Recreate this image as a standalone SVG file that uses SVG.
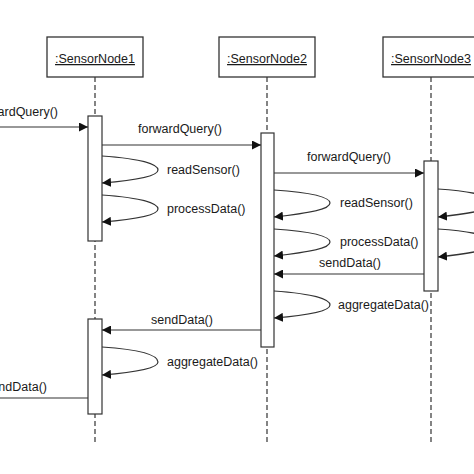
<svg xmlns="http://www.w3.org/2000/svg" width="474" height="474" viewBox="0 0 474 474">
<defs>
<style>
text{font-family:"Liberation Sans",Arial,sans-serif;font-size:12.5px;fill:#1a1a1a}
.u{text-decoration:underline}
.box{fill:#fff;stroke:#333;stroke-width:1.3}
.life{stroke:#333;stroke-width:1.2;stroke-dasharray:5,3;fill:none}
.msg{stroke:#333;stroke-width:1.2;fill:none}
.act{fill:#fff;stroke:#333;stroke-width:1.2}
</style>
<marker id="ah" viewBox="0 0 10 10" refX="10" refY="5" markerWidth="9" markerHeight="9" markerUnits="userSpaceOnUse" orient="auto">
<path d="M0,0 L10,5 L0,10 z" fill="#111"/>
</marker>
</defs>
<rect width="474" height="474" fill="#fff"/>
<g id="lifelines">
<line class="life" x1="95" y1="77" x2="95" y2="443"/>
<line class="life" x1="267" y1="77" x2="267" y2="443"/>
<line class="life" x1="431" y1="77" x2="431" y2="443"/>
</g>
<g id="SensorNode1">
<rect class="box" x="47" y="37" width="96" height="40"/>
<text class="u" x="95" y="63" text-anchor="middle">:SensorNode1</text>
<rect class="act" x="88" y="116" width="14" height="125"/>
<rect class="act" x="88" y="319" width="14" height="95"/>
</g>
<g id="SensorNode2">
<rect class="box" x="219" y="37" width="96" height="40"/>
<text class="u" x="267" y="63" text-anchor="middle">:SensorNode2</text>
<rect class="act" x="261" y="133" width="13" height="214"/>
</g>
<g id="SensorNode3">
<rect class="box" x="383" y="37" width="96" height="40"/>
<text class="u" x="431" y="63" text-anchor="middle">:SensorNode3</text>
<rect class="act" x="424" y="161" width="14" height="130"/>
</g>
<g id="connectors">
<line class="msg" x1="0" y1="127" x2="88" y2="127" marker-end="url(#ah)"/>
<text x="58" y="116" text-anchor="end">forwardQuery()</text>
<line class="msg" x1="102" y1="145" x2="261" y2="145" marker-end="url(#ah)"/>
<text x="180" y="133" text-anchor="middle">forwardQuery()</text>
<path class="msg" d="M102,156 C145,159 158,165 158,170 C158,176 140,180 102,183" marker-end="url(#ah)"/>
<text x="167" y="174">readSensor()</text>
<path class="msg" d="M102,195 C145,198 158,204 158,209 C158,215 140,219 102,222" marker-end="url(#ah)"/>
<text x="167" y="213">processData()</text>
<line class="msg" x1="274" y1="173" x2="424" y2="173" marker-end="url(#ah)"/>
<text x="349" y="161" text-anchor="middle">forwardQuery()</text>
<path class="msg" d="M274,190 C317,193 330,198 330,203 C330,209 312,213 274,217" marker-end="url(#ah)"/>
<text x="340" y="207">readSensor()</text>
<path class="msg" d="M274,229 C317,232 330,237 330,242 C330,248 312,252 274,256" marker-end="url(#ah)"/>
<text x="340" y="246">processData()</text>
<path class="msg" d="M438,189 C481,192 494,198 494,203 C494,209 476,213 438,217" marker-end="url(#ah)"/>
<path class="msg" d="M438,229 C481,232 494,238 494,243 C494,249 476,253 438,257" marker-end="url(#ah)"/>
<line class="msg" x1="424" y1="274" x2="274" y2="274" marker-end="url(#ah)"/>
<text x="350" y="267" text-anchor="middle">sendData()</text>
<path class="msg" d="M274,291 C317,294 330,300 330,305 C330,311 312,315 274,318" marker-end="url(#ah)"/>
<text x="338" y="309">aggregateData()</text>
<line class="msg" x1="261" y1="330" x2="102" y2="330" marker-end="url(#ah)"/>
<text x="182" y="324" text-anchor="middle">sendData()</text>
<path class="msg" d="M102,347 C145,350 158,356 158,362 C158,368 140,372 102,375" marker-end="url(#ah)"/>
<text x="167" y="366">aggregateData()</text>
<line class="msg" x1="88" y1="398" x2="0" y2="398"/>
<text x="47" y="391" text-anchor="end">sendData()</text>
</g>
</svg>
